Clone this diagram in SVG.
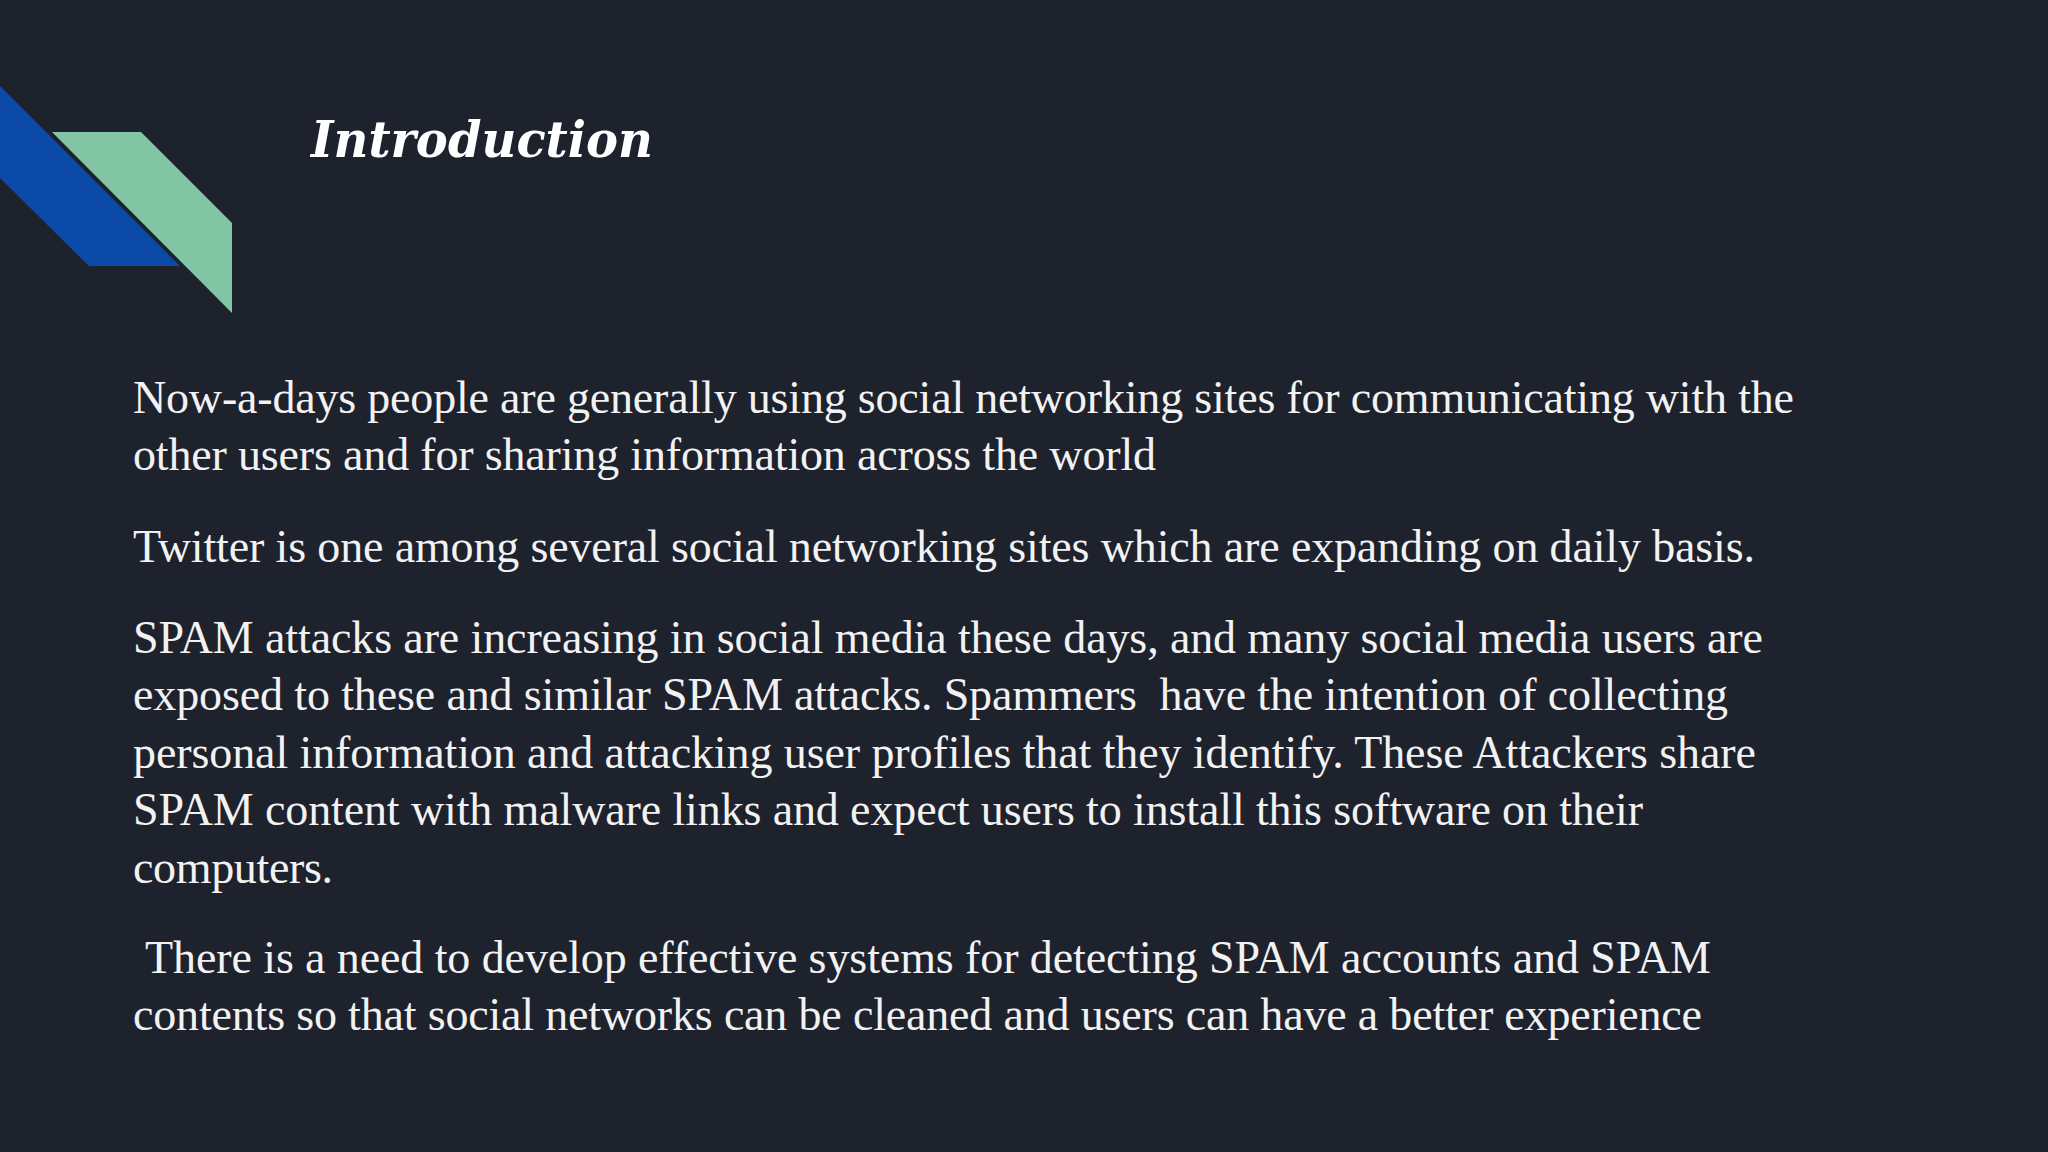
<svg xmlns="http://www.w3.org/2000/svg" width="2048" height="1152" viewBox="0 0 2048 1152">
<style>
.b{font-family:"Liberation Serif",serif;font-size:46px;fill:#f2f2f2}
.t{font-family:"DejaVu Serif",serif;font-size:50px;font-weight:bold;font-style:italic;fill:#ffffff}
</style>
<rect width="2048" height="1152" fill="#1e222d"/>
<g id="deco">
<polygon points="0,86 180,266 89,266 0,178" fill="#0b4aa8"/>
<polygon points="52,132 141,132 232,223 232,313" fill="#82c5a4"/>
</g>
<g id="title"><text class="t" x="311" y="157" textLength="342" lengthAdjust="spacingAndGlyphs">Introduction</text></g>
<g id="body">
<text class="b" x="133" y="413" textLength="1661" lengthAdjust="spacing">Now-a-days people are generally using social networking sites for communicating with the</text>
<text class="b" x="133" y="470" textLength="1023" lengthAdjust="spacing">other users and for sharing information across the world</text>
<text class="b" x="133" y="562" textLength="1622" lengthAdjust="spacing">Twitter is one among several social networking sites which are expanding on daily basis.</text>
<text class="b" x="133" y="653" textLength="1630" lengthAdjust="spacing">SPAM attacks are increasing in social media these days, and many social media users are</text>
<text class="b" x="133" y="710" textLength="1595" lengthAdjust="spacing" xml:space="preserve">exposed to these and similar SPAM attacks. Spammers  have the intention of collecting</text>
<text class="b" x="133" y="768" textLength="1623" lengthAdjust="spacing">personal information and attacking user profiles that they identify. These Attackers share</text>
<text class="b" x="133" y="825" textLength="1510" lengthAdjust="spacing">SPAM content with malware links and expect users to install this software on their</text>
<text class="b" x="133" y="883" textLength="200" lengthAdjust="spacing">computers.</text>
<text class="b" x="145" y="973" textLength="1566" lengthAdjust="spacing">There is a need to develop effective systems for detecting SPAM accounts and SPAM</text>
<text class="b" x="133" y="1030" textLength="1569" lengthAdjust="spacing">contents so that social networks can be cleaned and users can have a better experience</text>
</g>
</svg>
